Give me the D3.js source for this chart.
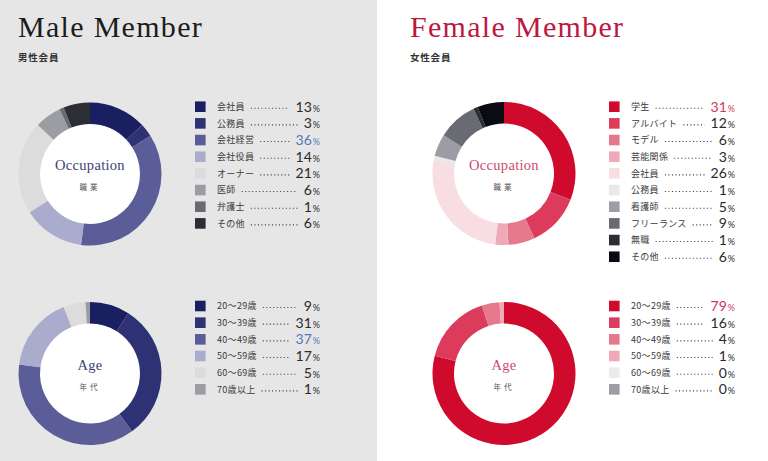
<!DOCTYPE html>
<html>
<head>
<meta charset="utf-8">
<script src="https://cdn.jsdelivr.net/npm/d3@7"></script>
<style>
  html, body { margin: 0; padding: 0; background: #fff; }
  svg { display: block; }
</style>
</head>
<body>
<div id="chart"></div>
<script>
// male member
const maleOccLabels = ["会社員", "公務員", "会社経営", "会社役員", "オーナー", "医師", "弁護士", "その他"];
const maleOccValues = [13, 3, 36, 14, 21, 6, 1, 6];
const maleAgeLabels = ["20〜29歳", "30〜39歳", "40〜49歳", "50〜59歳", "60〜69歳", "70歳以上"];
const maleAgeValues = [9, 31, 37, 17, 5, 1];

// female member
const femaleOccLabels = ["学生", "アルバイト", "モデル", "芸能関係", "会社員", "公務員", "看護師", "フリーランス", "無職", "その他"];
const femaleOccValues = [31, 12, 6, 3, 26, 1, 5, 9, 1, 6];
const femaleAgeLabels = ["20〜29歳", "30〜39歳", "40〜49歳", "50〜59歳", "60〜69歳", "70歳以上"];
const femaleAgeValues = [79, 16, 4, 1, 0, 0];

const maleColors = ["#1a1f62", "#2e3274", "#5b5d98", "#aaacce", "#dcdcdc", "#9c9ca3", "#6a6a72", "#2c2d35"];
const femaleOccColors = ["#cf0a2c", "#dc3b5b", "#e6788e", "#f0a9b7", "#f8dde3", "#e9e9e9", "#9c9ca4", "#6a6a72", "#2c2d35", "#0b0b14"];
const femaleAgeColors = ["#cf0a2c", "#dc3b5b", "#e6788e", "#f0a9b7", "#ebebeb", "#9c9ca4"];

const width = 768, height = 461;

const svg = d3.select("#chart").append("svg")
  .attr("width", width)
  .attr("height", height);

// gray panel behind the male side
svg.append("rect")
  .attr("x", 0).attr("y", 0)
  .attr("width", 377).attr("height", height)
  .attr("fill", "#e6e6e6");

const serif = "'Liberation Serif', 'DejaVu Serif', serif";
const jp = "'Noto Sans CJK JP', 'Noto Sans', sans-serif";
const num = "Lato, 'Open Sans', sans-serif";

function heading(x, title, sub, color) {
  svg.append("text")
    .attr("x", x).attr("y", 37)
    .attr("font-family", serif)
    .attr("font-size", 30)
    .attr("letter-spacing", 1.3)
    .attr("fill", color)
    .text(title);
  svg.append("text")
    .attr("x", x).attr("y", 61)
    .attr("font-family", jp)
    .attr("font-size", 9.5)
    .attr("font-weight", 700)
    .attr("letter-spacing", 0.8)
    .attr("fill", "#333")
    .text(sub);
}
heading(18, "Male Member", "男性会員", "#1c1c1c");
heading(410, "Female Member", "女性会員", "#bc1840");

const pie = d3.pie().sort(null).value(d => d);
const arc = d3.arc().innerRadius(50).outerRadius(71.5);

function donut(cfg) {
  const g = svg.append("g").attr("transform", `translate(${cfg.cx},${cfg.cy})`);
  g.append("circle").attr("r", 50).attr("fill", "#fff");
  g.selectAll("path")
    .data(pie(cfg.values))
    .enter()
    .append("path")
    .attr("d", arc)
    .attr("fill", (d, i) => cfg.colors[i]);
  g.append("text")
    .attr("y", -4)
    .attr("text-anchor", "middle")
    .attr("font-family", serif)
    .attr("font-size", 14.5)
    .attr("letter-spacing", 0.3)
    .attr("fill", cfg.titleColor)
    .text(cfg.title);
  g.append("text")
    .attr("y", 16)
    .attr("text-anchor", "middle")
    .attr("font-family", jp)
    .attr("font-size", 7.5)
    .attr("letter-spacing", 3)
    .attr("fill", "#555")
    .text(cfg.sub);

  // legend
  const y = d3.scaleLinear().domain([0, 1]).range([cfg.legY, cfg.legY + 16.67]);
  const rows = svg.append("g").selectAll("g")
    .data(cfg.labels)
    .enter()
    .append("g")
    .attr("transform", (d, i) => `translate(0,${y(i)})`);
  rows.append("rect")
    .attr("x", cfg.legX).attr("y", -5.3)
    .attr("width", 10.6).attr("height", 10.6)
    .attr("fill", (d, i) => cfg.colors[i]);
  rows.append("text")
    .attr("x", cfg.legX + 22).attr("y", 3.2)
    .attr("font-family", jp)
    .attr("font-size", 9)
    .attr("letter-spacing", 0.3)
    .attr("fill", "#3a3a3a")
    .text(d => d);
  const val = rows.append("text")
    .attr("x", cfg.valRight).attr("y", 5)
    .attr("text-anchor", "end")
    .attr("font-family", num)
    .attr("font-size", 14)
    .attr("fill", (d, i) => i === cfg.highlight ? cfg.hiColor : "#2a2a2a");
  val.append("tspan").text((d, i) => cfg.values[i]);
  val.append("tspan").attr("font-size", 9).attr("dx", 1).text("%");

  // dotted leaders between label and value
  rows.each(function () {
    const row = d3.select(this);
    const texts = row.selectAll("text").nodes();
    const x1 = cfg.legX + 22 + texts[0].getComputedTextLength() + 6;
    const x2 = cfg.valRight - texts[1].getComputedTextLength() - 7;
    row.append("line")
      .attr("x1", x1).attr("x2", x2)
      .attr("y1", 1.5).attr("y2", 1.5)
      .attr("stroke", "#444")
      .attr("stroke-width", 1.1)
      .attr("stroke-dasharray", "1.1 2.4");
  });
}

donut({ cx: 90, cy: 174, values: maleOccValues, labels: maleOccLabels, colors: maleColors,
  title: "Occupation", sub: "職業", titleColor: "#3d4178",
  legX: 195, legY: 106.7, valRight: 320, highlight: 2, hiColor: "#5378b6" });
donut({ cx: 90, cy: 373.5, values: maleAgeValues, labels: maleAgeLabels, colors: maleColors,
  title: "Age", sub: "年代", titleColor: "#3d4178",
  legX: 195, legY: 306, valRight: 320, highlight: 2, hiColor: "#5378b6" });
donut({ cx: 504, cy: 173.5, values: femaleOccValues, labels: femaleOccLabels, colors: femaleOccColors,
  title: "Occupation", sub: "職業", titleColor: "#cc4a6c",
  legX: 609, legY: 106.7, valRight: 735, highlight: 0, hiColor: "#d0385c" });
donut({ cx: 504, cy: 373.5, values: femaleAgeValues, labels: femaleAgeLabels, colors: femaleAgeColors,
  title: "Age", sub: "年代", titleColor: "#cc4a6c",
  legX: 609, legY: 306, valRight: 735, highlight: 0, hiColor: "#d0385c" });
</script>
</body>
</html>
